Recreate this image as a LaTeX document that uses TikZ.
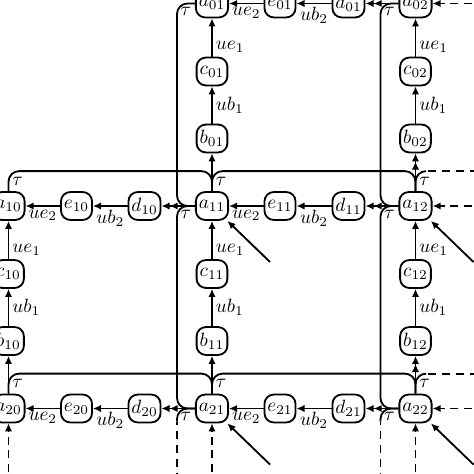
\documentclass[tikz,border=0pt]{standalone}
\usetikzlibrary{arrows.meta,calc}
\begin{document}
\begin{tikzpicture}[x=0.52pt,y=-0.52pt,
  st/.style={draw, line width=0.95pt, rounded corners=4.8pt, minimum width=16pt, minimum height=14.5pt, inner xsep=1.5pt, inner ysep=1.5pt},
  arr/.style={line width=0.95pt, -{Latex[length=4.2pt,width=3.8pt]}},
  dbl/.style={line width=0.95pt, -{Latex[length=4.2pt,width=3.8pt] Latex[length=4.2pt,width=3.8pt]}},
  tauedge/.style={line width=0.95pt, rounded corners=5.5pt},
  dsh/.style={dash pattern=on 4.2pt off 3pt},
  lb/.style={inner sep=1.5pt}
]
\useasboundingbox (0,0) rectangle (474,474);
\clip (0,0) rectangle (474,474);

% row 0
\node[st] (a01) at (212,3.5) {$a_{01}$};
\node[st] (e01) at (280,3.5) {$e_{01}$};
\node[st] (d01) at (348.5,3.5) {$d_{01}$};
\node[st] (a02) at (415.5,3.5) {$a_{02}$};
% between rows 0 and 1
\node[st] (c01) at (212,71.5) {$c_{01}$};
\node[st] (b01) at (212,138.5) {$b_{01}$};
\node[st] (c02) at (415.5,71.5) {$c_{02}$};
\node[st] (b02) at (415.5,138.5) {$b_{02}$};
% row 1
\node[st] (a10) at (8.5,206) {$a_{10}$};
\node[st] (e10) at (76.5,206) {$e_{10}$};
\node[st] (d10) at (144.5,206) {$d_{10}$};
\node[st] (a11) at (212,206) {$a_{11}$};
\node[st] (e11) at (280,206) {$e_{11}$};
\node[st] (d11) at (348.5,206) {$d_{11}$};
\node[st] (a12) at (415.5,206) {$a_{12}$};
% between rows 1 and 2
\node[st] (c10) at (8.5,274) {$c_{10}$};
\node[st] (b10) at (8.5,341) {$b_{10}$};
\node[st] (c11) at (212,274) {$c_{11}$};
\node[st] (b11) at (212,341) {$b_{11}$};
\node[st] (c12) at (415.5,274) {$c_{12}$};
\node[st] (b12) at (415.5,341) {$b_{12}$};
% row 2
\node[st] (a20) at (8.5,408.5) {$a_{20}$};
\node[st] (e20) at (76.5,408.5) {$e_{20}$};
\node[st] (d20) at (144.5,408.5) {$d_{20}$};
\node[st] (a21) at (212,408.5) {$a_{21}$};
\node[st] (e21) at (280,408.5) {$e_{21}$};
\node[st] (d21) at (348.5,408.5) {$d_{21}$};
\node[st] (a22) at (415.5,408.5) {$a_{22}$};

% horizontal chains
\draw[dbl] (a02) -- (d01);
\draw[arr] (d01) -- node[lb,below]{$ub_2$} (e01);
\draw[arr] (e01) -- node[lb,below]{$ue_2$} (a01);
\draw[dbl] (a11) -- (d10);
\draw[arr] (d10) -- node[lb,below]{$ub_2$} (e10);
\draw[arr] (e10) -- node[lb,below]{$ue_2$} (a10);
\draw[dbl] (a12) -- (d11);
\draw[arr] (d11) -- node[lb,below]{$ub_2$} (e11);
\draw[arr] (e11) -- node[lb,below]{$ue_2$} (a11);
\draw[dbl] (a21) -- (d20);
\draw[arr] (d20) -- node[lb,below]{$ub_2$} (e20);
\draw[arr] (e20) -- node[lb,below]{$ue_2$} (a20);
\draw[dbl] (a22) -- (d21);
\draw[arr] (d21) -- node[lb,below]{$ub_2$} (e21);
\draw[arr] (e21) -- node[lb,below]{$ue_2$} (a21);

% vertical chains
\draw[arr] (a11) -- (b01);
\draw[arr] (b01) -- node[lb,right]{$ub_1$} (c01);
\draw[arr] (c01) -- node[lb,right,pos=0.25]{$ue_1$} (a01);
\draw[dbl] (a12) -- (b02);
\draw[arr] (b02) -- node[lb,right]{$ub_1$} (c02);
\draw[arr] (c02) -- node[lb,right,pos=0.25]{$ue_1$} (a02);
\draw[arr] (a20) -- (b10);
\draw[arr] (b10) -- node[lb,right]{$ub_1$} (c10);
\draw[arr] (c10) -- node[lb,right,pos=0.25]{$ue_1$} (a10);
\draw[arr] (a21) -- (b11);
\draw[arr] (b11) -- node[lb,right]{$ub_1$} (c11);
\draw[arr] (c11) -- node[lb,right,pos=0.25]{$ue_1$} (a11);
\draw[dbl] (a22) -- (b12);
\draw[arr] (b12) -- node[lb,right]{$ub_1$} (c12);
\draw[arr] (c12) -- node[lb,right,pos=0.25]{$ue_1$} (a12);

% horizontal tau edges
\draw[tauedge] (a11.north) -- ++(0,-20) -| node[lb,near end,right]{$\tau$} (a10.north);
\draw[tauedge] (a12.north) -- ++(0,-20) -| node[lb,near end,right]{$\tau$} (a11.north);
\draw[tauedge] (a21.north) -- ++(0,-20) -| node[lb,near end,right]{$\tau$} (a20.north);
\draw[tauedge] (a22.north) -- ++(0,-20) -| node[lb,near end,right]{$\tau$} (a21.north);
\coordinate (h1) at ($(a12.north)+(90,-20)$);
\coordinate (h1s) at ($(a12.north)+(10.5,-20)$);
\draw[tauedge,dsh] (h1) -- (h1s);
\draw[tauedge] (h1s) -| node[lb,near end,right]{$\tau$} (a12.north);
\coordinate (h2) at ($(a22.north)+(90,-20)$);
\coordinate (h2s) at ($(a22.north)+(10.5,-20)$);
\draw[tauedge,dsh] (h2) -- (h2s);
\draw[tauedge] (h2s) -| node[lb,near end,right]{$\tau$} (a22.north);

% vertical tau edges
\draw[tauedge] (a11.west) -- ++(-18,0) |- node[lb,near end,below]{$\tau$} (a01.west);
\draw[tauedge] (a21.west) -- ++(-18,0) |- node[lb,near end,below]{$\tau$} (a11.west);
\draw[tauedge] (a12.west) -- ++(-18,0) |- node[lb,near end,below]{$\tau$} (a02.west);
\draw[tauedge] (a22.west) -- ++(-18,0) |- node[lb,near end,below]{$\tau$} (a12.west);
\coordinate (v1) at ($(a21.west)+(-18,100)$);
\coordinate (v1s) at ($(a21.west)+(-18,13)$);
\draw[tauedge,dsh] (v1) -- (v1s);
\draw[tauedge] (v1s) |- node[lb,near end,below]{$\tau$} (a21.west);
\coordinate (v2) at ($(a22.west)+(-18,100)$);
\coordinate (v2s) at ($(a22.west)+(-18,13)$);
\draw[tauedge,dsh] (v2) -- (v2s);
\draw[tauedge] (v2s) |- node[lb,near end,below]{$\tau$} (a22.west);

% dashed inputs from outside
\coordinate (r0) at (500,3.5);
\coordinate (r1) at (500,206);
\coordinate (r2) at (500,408.5);
\draw[arr,dsh] (r0) -- (a02);
\draw[arr,dsh] (r1) -- (a12);
\draw[arr,dsh] (r2) -- (a22);
\coordinate (u0) at (8.5,500);
\coordinate (u1) at (212,500);
\coordinate (u2) at (415.5,500);
\draw[arr,dsh] (u0) -- (a20);
\draw[arr,dsh] (u1) -- (a21);
\draw[arr,dsh] (u2) -- (a22);

% diagonal inputs
\coordinate (g11) at ($(a11)+(58,56)$);
\coordinate (g12) at ($(a12)+(58,56)$);
\coordinate (g21) at ($(a21)+(58,56)$);
\coordinate (g22) at ($(a22)+(58,56)$);
\draw[arr] (g11) -- (a11);
\draw[arr] (g12) -- (a12);
\draw[arr] (g21) -- (a21);
\draw[arr] (g22) -- (a22);
\end{tikzpicture}
\end{document}
